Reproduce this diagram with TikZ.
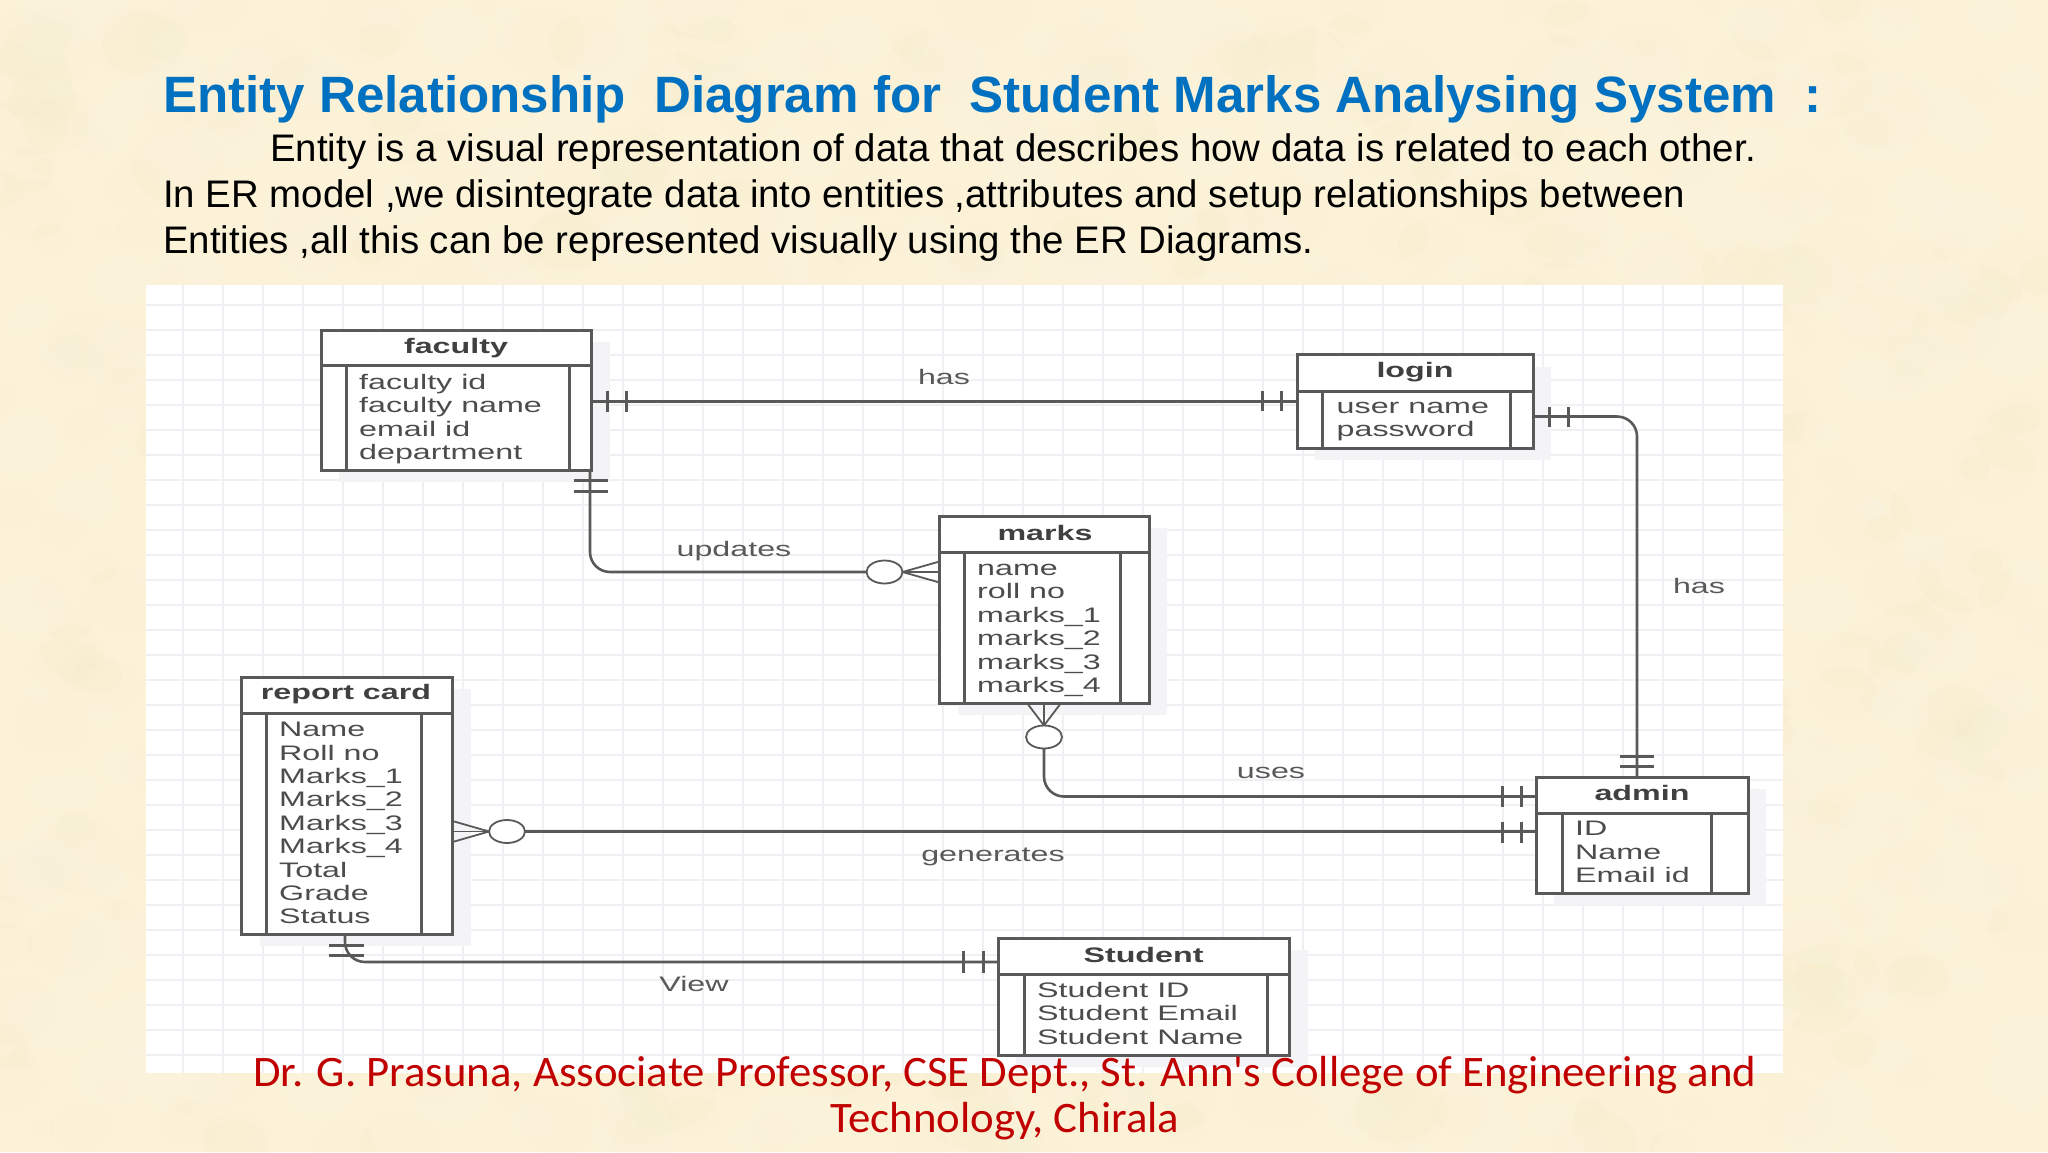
\documentclass[tikz,border=0pt]{standalone}
\usepackage{fontspec}
\usetikzlibrary{shapes.geometric,calc}
\setmainfont{Liberation Sans}
\newfontfamily\dg[FakeStretch=1.535]{Liberation Sans}
\newfontfamily\foot[FakeStretch=1.03]{Carlito}
\definecolor{paper}{HTML}{FBF2D8}
\definecolor{blot}{HTML}{F7E7BF}
\definecolor{blotb}{HTML}{FFFBEF}
\definecolor{ink}{HTML}{595959}
\definecolor{gridc}{HTML}{F0F0F4}
\definecolor{boxshade}{HTML}{F4F4F6}
\definecolor{titleblue}{HTML}{0070C0}
\definecolor{footred}{HTML}{C00000}
\tikzset{
  x=1pt,y=-1pt,
  ent/.style={draw=ink,line width=3pt,fill=white,anchor=north west,inner sep=0pt,outer sep=0pt},
  rule/.style={draw=ink,line width=3pt},
  conn/.style={draw=ink,line width=2.6pt},
  tick/.style={draw=ink,line width=3pt},
  crow/.style={draw=ink,line width=1.8pt},
  zero/.style={ellipse,draw=ink,line width=1.8pt,fill=white,minimum width=36pt,minimum height=23pt,inner sep=0pt,outer sep=0pt},
  head/.style={font=\dg\bfseries\fontsize{21}{23}\selectfont,text=black!75,inner sep=0pt},
  attr/.style={font=\dg\fontsize{21}{23.4}\selectfont,text=black!70,align=left,anchor=north west,inner sep=0pt},
  lbl/.style={font=\dg\fontsize{21}{23}\selectfont,text=black!65,inner sep=0pt},
  body/.style={font=\fontsize{38.4}{40}\selectfont,text=black,anchor=west,inner sep=0pt},
}
\newcommand{\entbox}[8]{% name, l, t, r, b, headerY, innerL, innerR
  \fill[boxshade] (#2+18,#3+12) rectangle (#4+18,#5+12);
  \node[ent,minimum width=#4-#2,minimum height=#5-#3] (#1) at (#2,#3) {};
  \draw[rule] (#2,#6) -- (#4,#6);
  \draw[rule] (#7,#6) -- (#7,#5);
  \draw[rule] (#8,#6) -- (#8,#5);
}
\begin{document}
\begin{tikzpicture}
\useasboundingbox (0,0) rectangle (2048,1152);
\fill[paper] (0,0) rectangle (2048,1152);
% mottled paper
\pgfmathsetseed{4242}
\foreach \i in {1,...,700}{
  \pgfmathsetmacro{\px}{random(0,2048)}
  \pgfmathsetmacro{\py}{random(0,1152)}
  \pgfmathsetmacro{\pr}{random(12,48)}
  \fill[blot,opacity=.07] (\px,\py) ellipse ({\pr pt} and {0.8*\pr pt});
}
\foreach \i in {1,...,600}{
  \pgfmathsetmacro{\px}{random(0,2048)}
  \pgfmathsetmacro{\py}{random(0,1152)}
  \pgfmathsetmacro{\pr}{random(10,40)}
  \fill[blotb,opacity=.09] (\px,\py) ellipse ({\pr pt} and {0.8*\pr pt});
}
% diagram sheet
\fill[white] (146,285) rectangle (1783,1073);
\foreach \gx in {183,223,...,1780} \draw[gridc,line width=1.6pt] (\gx,285) -- (\gx,1073);
\foreach \gy in {305,330,...,1072} \draw[gridc,line width=1.6pt] (146,\gy) -- (1783,\gy);
% header text
\node[font=\bfseries\fontsize{51.1}{54}\selectfont,text=titleblue,anchor=west,inner sep=0pt] (title) at (163,99) {Entity Relationship\ \ Diagram for\ \ Student Marks Analysing System\ \ :};
\node[body] (l1) at (270,152) {Entity is a visual representation of data that describes how data is related to each other.};
\node[body] (l2) at (163,198) {In ER model ,we disintegrate data into entities ,attributes and setup relationships between};
\node[body] (l3) at (163,244) {Entities ,all this can be represented visually using the ER Diagrams.};
% entities
\entbox{faculty}{321}{330}{591.5}{470}{365.5}{346.5}{569}
\entbox{login}{1297}{354.5}{1533}{448}{391}{1322}{1510}
\entbox{marks}{939.5}{516}{1149}{703}{552}{964}{1120}
\entbox{report}{241.5}{677}{452.5}{934}{713}{266.5}{421.5}
\entbox{admin}{1536}{777}{1748}{893}{813}{1562}{1711}
\entbox{student}{998}{938}{1289.5}{1055}{974}{1024}{1267}
\node[head] (tfaculty) at (456,348) {faculty};
\node[head] (tlogin) at (1415,372) {login};
\node[head] (tmarks) at (1045,533) {marks};
\node[head] (treport) at (346,694.5) {report card};
\node[head] (tadmin) at (1642,793) {admin};
\node[head] (tstudent) at (1143.5,955) {Student};
\node[attr] (afaculty) at (359,374) {faculty id\\faculty name\\email id\\department};
\node[attr] (alogin) at (1336.5,402) {user name\\password};
\node[attr] (amarks) at (977,564) {name\\roll no\\marks\_1\\marks\_2\\marks\_3\\marks\_4};
\node[attr] (areport) at (279,722) {Name\\Roll no\\Marks\_1\\Marks\_2\\Marks\_3\\Marks\_4\\Total\\Grade\\Status};
\node[attr] (aadmin) at (1575,821) {ID\\Name\\Email id};
\node[attr] (astudent) at (1037,982) {Student ID\\Student Email\\Student Name};
% optional-many symbols
\node[zero] (z1) at (884.5,572) {};
\node[zero] (z2) at (1044,737) {};
\node[zero] (z3) at (507,831.5) {};
% connectors
\draw[conn] (faculty.east |- login.west) -- (login.west);
\draw[conn,rounded corners=20pt] (590,470) |- (z1.west);
\draw[conn,rounded corners=20pt] (login.east |- 0,416.5) -| (1637,777);
\draw[conn,rounded corners=20pt] (z2.south) |- (admin.west |- 0,796.5);
\draw[conn] (z3.east) -- (admin.west |- z3.east);
\draw[conn,rounded corners=20pt] (345,934) |- (student.west |- 0,962);
% crow's feet
\draw[crow] (z1.east) -- (marks.west |- z1.east);
\draw[crow] (z1.east) -- (marks.west |- 0,561.5);
\draw[crow] (z1.east) -- (marks.west |- 0,582.5);
\draw[crow] (z2.north) -- (z2.north |- marks.south);
\draw[crow] (z2.north) -- (1027,703);
\draw[crow] (z2.north) -- (1061,703);
\draw[crow] (z3.west) -- (report.east |- z3.west);
\draw[crow] (z3.west) -- (report.east |- 0,821);
\draw[crow] (z3.west) -- (report.east |- 0,842);
% one-and-only-one bars
\draw[tick] (607.5,390.5) -- (607.5,412);
\draw[tick] (626,390.5) -- (626,412);
\draw[tick] (1262,391) -- (1262,411);
\draw[tick] (1281,391) -- (1281,411);
\draw[tick] (574,480) -- (607.5,480);
\draw[tick] (574,491) -- (607.5,491);
\draw[tick] (1549,406.5) -- (1549,427);
\draw[tick] (1568,406.5) -- (1568,427);
\draw[tick] (1620,756) -- (1654,756);
\draw[tick] (1620,766.5) -- (1654,766.5);
\draw[tick] (1502,786) -- (1502,807);
\draw[tick] (1521,786) -- (1521,807);
\draw[tick] (1502,821.5) -- (1502,842.5);
\draw[tick] (1521,821.5) -- (1521,842.5);
\draw[tick] (329,945) -- (363.5,945);
\draw[tick] (329,955.5) -- (363.5,955.5);
\draw[tick] (963,951) -- (963,973);
\draw[tick] (983,951) -- (983,973);
% labels
\node[lbl] (lhas1) at (944,377) {has};
\node[lbl] (lupd) at (734,551) {updates};
\node[lbl] (lhas2) at (1699,586) {has};
\node[lbl] (luses) at (1271,773) {uses};
\node[lbl] (lgen) at (993,857) {generates};
\node[lbl] (lview) at (694,984) {View};
% footer
\node[font=\foot\fontsize{43.5}{46}\selectfont,text=footred,align=center,inner sep=0pt] (foot) at (1005,1098) {Dr. G. Prasuna, Associate Professor, CSE Dept., St. Ann's College of Engineering and\\Technology, Chirala};
\end{tikzpicture}
\end{document}
